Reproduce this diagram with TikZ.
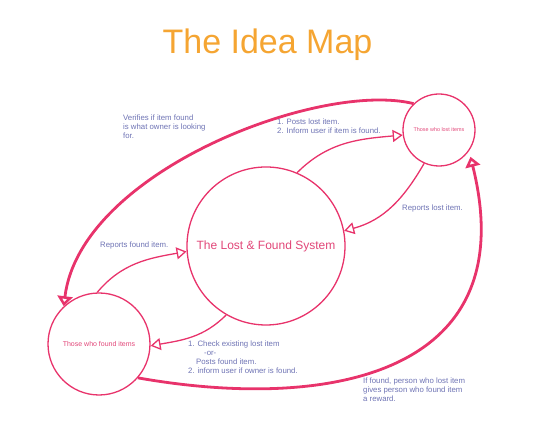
\documentclass[tikz,border=0pt]{standalone}
\usepackage{fontspec}
\setmainfont{Liberation Sans}
\usetikzlibrary{arrows.meta}
\definecolor{linepink}{HTML}{E8336B}
\definecolor{bubbletext}{HTML}{E14678}
\definecolor{notetext}{HTML}{6E73B4}
\definecolor{titleorange}{HTML}{F5A532}
\tikzset{
    >={Triangle[open, length=10pt, width=12pt]},
    bubble/.style={circle, draw=linepink, line width=1.3pt, text=bubbletext, inner sep=0pt},
    flow/.style={->, draw=linepink, line width=1.3pt},
    bigflow/.style={->, draw=linepink, line width=2.8pt, >={Triangle[open, length=10pt, width=15pt]}},
    note/.style={text=notetext, font=\fontsize{7.8}{9}\selectfont, align=left, anchor=north west, inner sep=0pt},
}

\begin{document}
\begin{tikzpicture}[x=1pt, y=1pt]
\useasboundingbox (0,0) rectangle (550,428);

\node[anchor=base, text=titleorange, font=\fontsize{34}{40}\selectfont] (title) at (267.5,374) {The Idea Map};

\node[bubble, minimum size=158pt, font=\fontsize{12}{14}\selectfont] (lfs) at (266,182) {The Lost \& Found System};
\node[bubble, minimum size=72pt, font=\fontsize{5.4}{6}\selectfont] (lost) at (439,298) {Those who lost items};
\node[bubble, minimum size=102pt, font=\fontsize{7}{8}\selectfont] (found) at (99,84) {Those who found items};

\node[note] (verify) at (123,313) {Verifies if item found\\is what owner is looking\\for.};
\node[note] (posts) at (277,309) {1. Posts lost item.\\2. Inform user if item is found.};
\node[note] (replost) at (402,223) {Reports lost item.};
\node[note] (repfound) at (100,186) {Reports found item.};
\node[note] (check) at (188,87) {1. Check existing lost item\\\hspace*{16pt}-or-\\\hspace*{8pt}Posts found item.\\2. inform user if owner is found.};
\node[note] (reward) at (363,50) {If found, person who lost item\\gives person who found item\\a reward.};

\draw[flow] (lfs.67) to[out=45, in=185] (lost.188);
\draw[flow] (lost.246) to[out=240, in=15] (lfs.11);
\draw[flow] (found.92) to[out=50, in=190] (lfs.184);
\draw[flow] (lfs.240) to[out=225, in=10] (found.358);

\draw[bigflow] (lost.134) to[out=166, in=83, out distance=96pt, in distance=136pt] (found.133);
\draw[bigflow, shorten >=6pt] (found.319) to[out=-10, in=-76, out distance=195pt, in distance=230pt] (lost.325);

\end{tikzpicture}
\end{document}
